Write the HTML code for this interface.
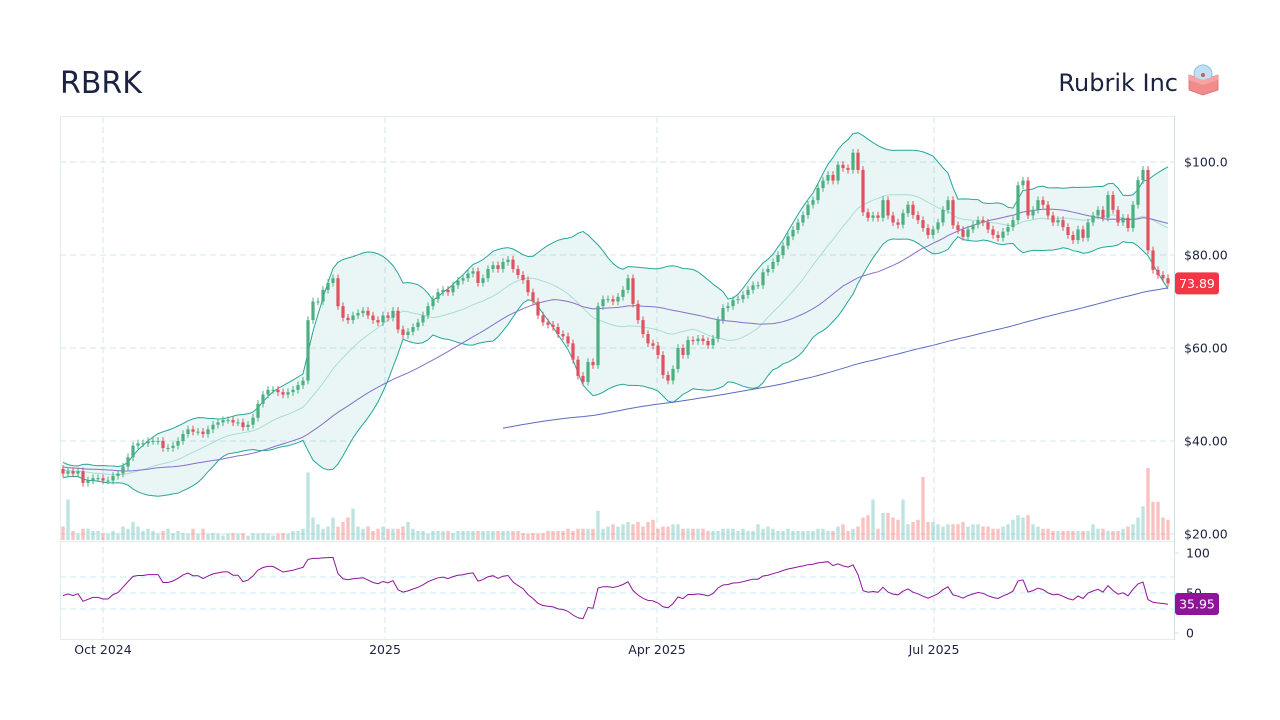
<!DOCTYPE html>
<html><head><meta charset="utf-8">
<style>
html,body{margin:0;padding:0;background:#fff;}
svg{display:block;font-family:"DejaVu Sans","Liberation Sans",sans-serif;}
</style></head>
<body>
<svg id="chart" width="1280" height="720" viewBox="0 0 1280 720" xmlns="http://www.w3.org/2000/svg">
  <text x="60" y="93" font-size="30" fill="#1c2340">RBRK</text>
  <text x="1178" y="91" font-size="24" fill="#1c2340" text-anchor="end">Rubrik Inc</text>
  <g>
    <path d="M1189 75 L1203 80 L1218 75 L1218 90 L1203 95 L1189 90 Z" fill="#f28b8b" stroke="#d86a6a" stroke-width="0.8"/>
    <circle cx="1203" cy="74" r="9" fill="#bfe0f5" stroke="#8cbfe0" stroke-width="1"/>
    <circle cx="1203" cy="75" r="2" fill="#d05a5a"/>
    <path d="M1189 75 L1203 80 L1218 75 L1218 80 L1203 85 L1189 80 Z" fill="#f5a3a3"/>
  </g>
  <rect x="60.5" y="116.5" width="1114" height="523" fill="none" stroke="#e3edf3"/>
  <line x1="60" y1="541.5" x2="1174" y2="541.5" stroke="#e3edf3"/>
  <line x1="1174.5" y1="116" x2="1174.5" y2="640" stroke="#cfe3ea"/>
  <g id="grid"></g>
  <g id="bands"></g>
  <g id="vol"></g>
  <g id="lines"></g>
  <g id="candles"></g>
  <g id="rsi"></g>
  <g id="axes"></g>
</svg>
<script>
// ---- data ----
const history = [38,37,36,35,36,35,34,33,33,34,
34,35,36,35,34,34,33,33,32,32,31,30,30,29,30,31,30,29,28,28,
28,27,27,28,29,28,28,27,27,28,29,30,31,32,33,32,33,34,35,36,
37,38,38,39,38,37,36,37,38,39,40,40,39,38,37,36,35,34,33,34,
35,36,37,38,37,36,35,34,33,32,33,34,35,36,35,34,33,32,32,33,
34,35,36,35,34,33,34,35,34,33,34,33,34,33,33,34,33,34,33,33,34];
const closes = [33,33.5,33,33.5,31,31.5,32,32,31.5,31.5,
32.5,33,34.5,36.5,39,39.5,39.5,40,40,40,
38.5,38.5,39,40,41.5,42.5,42,42,41.5,42.5,
43.5,44,44.5,44.5,44,44,43,43.5,45,48,
50,51,51,50.5,50,50.5,51,52,53,
66,70,70,72.5,74,75,69,66.5,66,67,67.5,68,67,66,65.5,67,66.5,68,64,62.8,63.5,64.5,65.5,67,69,70.5,72,72.5,72,73.5,74.5,75,76,76.5,74,75,77,77.8,77,78.5,79,77,75.7,74.6,72,70,67,65.5,65,64.5,63,62.5,61,57.5,54,52.7,57,56.3,69,70.5,70.5,70,71,72.5,75,69.5,66,63,61,60.5,58.5,54.2,53,55.5,60,58.5,61.7,61.5,62,61.5,60.6,62,66,68.6,69,70.3,70.5,71.4,72.5,73.5,73.5,76.3,77,78.5,80,82,84,85.4,87,88.6,90.8,91.8,94.4,96,97.2,96,99.4,98.7,98.3,102,98.3,89.2,88,88.5,88,91.8,88.5,87,86.5,89,90.8,88.6,87.5,85.8,84.3,85.5,87,89.7,91.8,86.4,85.4,83.9,85.5,86.5,87.5,87,85.5,84.3,83.7,85,86,87.5,95,96,88.5,89.7,91.8,90.8,88.5,87,87.5,86,84.3,83.2,85.5,83.7,87,88.5,89.7,88,92.9,89.7,87,88,85.8,90.8,96.1,98.3,81,76.8,75.7,75,73.89];
const volumes = [3,9,2,1.5,2.5,2.5,2,2,1.5,1.5,
2,1.5,3,2.5,4,3,2,2.5,2,1.5,
2,2.5,1.5,2,1.5,1.5,2.5,1.5,2.5,1.5,
1.5,1.5,1,1.5,1.5,1.5,1.5,1,1.5,1.5,
1.5,1.5,1,1.5,1.5,1.5,2,2,2.5,15,
5,3.5,2.5,3,5,3,4,5,7,3,
2.5,3,2,2.5,3,2.5,2.5,2.5,3,4,
2.5,2,2,1.5,2,2,2,2,1.5,2,
2,2,2,2,2,2,2,2,2,2,
2,2,1.5,1.5,1.5,1.5,1.5,2,2,2,
2,2.5,2,2.5,2.5,2.5,2.5,6.5,2.5,3,
3.5,3,3.5,4,3.5,4,3,4,4.5,2.5,
3,3,3.5,3.5,2.5,2.5,2.5,2.5,2.5,2,
2,2,2.5,2.5,2.5,2,2.5,2,2,3.5,
2.5,3,2.5,2,2,2.5,2,2,2,2,
2,2.5,2.5,2,2,3,3.5,2,2.5,3,
5,5.5,9,2.5,6,6,5,4.5,9,3.5,
4,4.5,14,4,4,3.5,3,3.5,3.5,3.5,
4,3,3.5,3.5,3,3,2.5,2.5,3,3.5,
4.5,5.5,5,5.5,3.5,3,2.5,2.5,2,2,
2,2,2,2,2,2,3.5,2.5,2.5,2,
2,2,2.5,3,3.5,5,7.5,16,8.5,8.5,
5,4.5];
const priceTicks = [100,80,60,40,20];
const priceTickLabels = ["$100.0","$80.00","$60.00","$40.00","$20.00"];
const rsiTicks = [100,50,0];
const dateTicks = [["Oct 2024",103],["2025",385],["Apr 2025",657],["Jul 2025",934]];

// ---- scales ----
const NS="http://www.w3.org/2000/svg";
const n=closes.length;
const X0=63, X1=1168;
const step=(X1-X0)/(n-1);
const xS=i=>X0+i*step;
const yP=p=>162+(100-p)*4.65;
const yR=r=>633-r*0.8;
const volBase=540;
const yV=v=>volBase-v*4.5;
function el(tag,attrs,parent){const e=document.createElementNS(NS,tag);for(const k in attrs)e.setAttribute(k,attrs[k]);parent.appendChild(e);return e;}

const all=history.concat(closes);
const H=history.length;
function sma(w,j){if(j-w+1<0)return null;let s=0;for(let k=j-w+1;k<=j;k++)s+=all[k];return s/w;}
function sd(w,j){const m=sma(w,j);let s=0;for(let k=j-w+1;k<=j;k++)s+=(all[k]-m)**2;return Math.sqrt(s/w);}

// grid
const grid=document.getElementById('grid');
priceTicks.forEach((p,i)=>{const g=el('line',{x1:60,x2:1174,y1:yP(p),y2:yP(p),stroke:'#d3e6ee','stroke-dasharray':'6,4'},grid);
});
[70,50,30].forEach(r=>{const g=el('line',{x1:60,x2:1174,y1:yR(r),y2:yR(r),stroke:'#c8ecf7','stroke-dasharray':'6,4'},grid);
});
dateTicks.forEach(d=>{const g=el('line',{x1:d[1],x2:d[1],y1:117,y2:639,stroke:'#d3e6ee','stroke-dasharray':'6,4'},grid);
});

// bollinger bands
const bands=document.getElementById('bands');
let up=[],lo=[],mid=[];
for(let i=0;i<n;i++){const j=H+i;const m=sma(20,j),s=sd(20,j);mid.push([xS(i),yP(m)]);up.push([xS(i),yP(m+2*s)]);lo.push([xS(i),yP(m-2*s)]);}
const pts=a=>a.map(p=>p[0].toFixed(1)+','+p[1].toFixed(1)).join(' ');
const fill=el('polygon',{points:pts(up)+' '+pts(lo.slice().reverse()),fill:'rgba(38,166,154,0.1)'},bands);

const ub=el('polyline',{points:pts(up),fill:'none',stroke:'#26a69a','stroke-width':1},bands);

const lb=el('polyline',{points:pts(lo),fill:'none',stroke:'#26a69a','stroke-width':1},bands);

const mb=el('polyline',{points:pts(mid),fill:'none',stroke:'#a8ddd6','stroke-width':1},bands);


// volume
const vol=document.getElementById('vol');
for(let i=0;i<n;i++){const o=i===0?history[H-1]:closes[i-1];const c=closes[i];
const r=el('rect',{x:xS(i)-1.7,y:yV(volumes[i]),width:3.4,height:volBase-yV(volumes[i]),fill:c>=o?'rgba(38,166,154,0.3)':'rgba(239,83,80,0.35)'},vol);
}

// moving averages
const lines=document.getElementById('lines');
let m50=[],m200=[];
for(let i=0;i<n;i++){const j=H+i;const a=sma(50,j);if(a!==null)m50.push([xS(i),yP(a)]);const b=sma(200,j);if(b!==null)m200.push([xS(i),yP(b)]);}
const l50=el('polyline',{points:pts(m50),fill:'none',stroke:'#8a6fc9','stroke-width':1},lines);

const l200=el('polyline',{points:pts(m200),fill:'none',stroke:'#5c6bc0','stroke-width':1},lines);


// candles
const cg=document.getElementById('candles');
for(let i=0;i<n;i++){const o=i===0?history[H-1]:closes[i-1];const c=closes[i];
const col=c>=o?'#4caf82':'#e0525f';const hi=Math.max(o,c)+0.8,low=Math.min(o,c)-0.8;
const g=el('g',{},cg);

el('line',{x1:xS(i),x2:xS(i),y1:yP(hi),y2:yP(low),stroke:col,'stroke-width':1},g);
const top=yP(Math.max(o,c)),bot=yP(Math.min(o,c));
el('rect',{x:xS(i)-1.6,y:top,width:3.2,height:Math.max(1,bot-top),fill:col},g);}

// RSI
const rg=document.getElementById('rsi');
let ag=0,al=0,rsi=[];
for(let j=1;j<all.length;j++){const d=all[j]-all[j-1];const gN=Math.max(d,0),lN=Math.max(-d,0);
if(j<=14){ag+=gN/14;al+=lN/14;}else{ag=(ag*13+gN)/14;al=(al*13+lN)/14;}
if(j>=H){const v=al===0?100:100-100/(1+ag/al);rsi.push([xS(j-H),yR(v)]);}}
const rl=el('polyline',{points:pts(rsi),fill:'none',stroke:'#8e1599','stroke-width':1},rg);


// axes labels
const ax=document.getElementById('axes');
priceTicks.forEach((p,i)=>{const t=el('text',{x:1184,y:yP(p)+4.5,'font-size':12.5,fill:'#1c2340'},ax);t.textContent=priceTickLabels[i];
});
rsiTicks.forEach(r=>{const t=el('text',{x:1186,y:yR(r)+4.5,'font-size':12.5,fill:'#1c2340'},ax);t.textContent=String(r);

el('line',{x1:1174,x2:1179,y1:yR(r),y2:yR(r),stroke:'#cfe3ea'},ax);});
dateTicks.forEach(d=>{const t=el('text',{x:d[1],y:654,'font-size':12.5,fill:'#1c2340','text-anchor':'middle'},ax);t.textContent=d[0];
});
// last price badge
const last=closes[n-1];
const pb=el('g',{},ax);
el('rect',{x:1175,y:yP(last)-11,width:44,height:22,rx:3,fill:'#f23645'},pb);
const pt=el('text',{x:1197,y:yP(last)+4.5,'font-size':12.5,fill:'#fff','text-anchor':'middle'},pb);pt.textContent=last.toFixed(2);
const lastR=633-rsi[rsi.length-1][1];
const rb=el('g',{},ax);
el('rect',{x:1175,y:593,width:44,height:22,rx:3,fill:'#8e1599'},rb);
const rt=el('text',{x:1197,y:608.5,'font-size':12.5,fill:'#fff','text-anchor':'middle'},rb);rt.textContent=(lastR/0.8).toFixed(2);
</script>
</body></html>
